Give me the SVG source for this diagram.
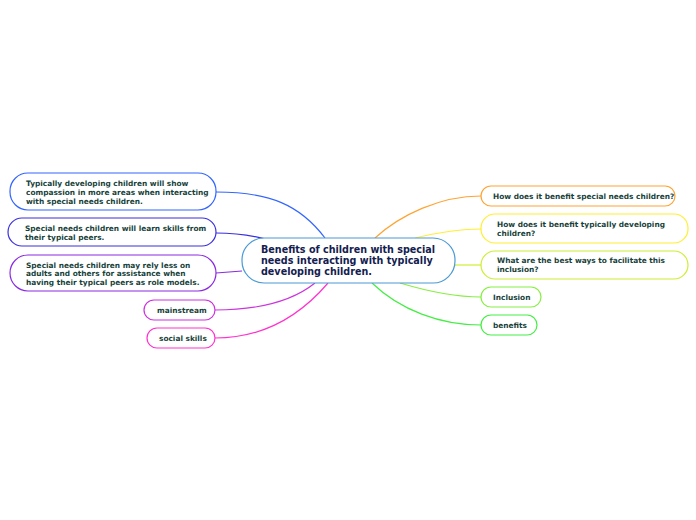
<svg xmlns="http://www.w3.org/2000/svg" width="696" height="520" viewBox="0 0 696 520">
<style>
text{font-family:"DejaVu Sans",Verdana,sans-serif;font-weight:bold;font-size:7.4px;fill:#17423a}
.c{font-size:9.6px;fill:#13204f}
rect{fill:#fff;stroke-width:1.2}
path{fill:none;stroke-width:1.2}
</style>
<rect width="696" height="520" fill="#fff" stroke="none"/>
<g id="connectors">
<path d="M216,192 C270,192 300,205 325,238" stroke="#3366ff"/>
<path d="M216,233 C240,233 255,236 270,240" stroke="#3a2fe0"/>
<path d="M216,273 L242,271" stroke="#8a2be2"/>
<path d="M215,310 C270,310 300,295 315,283" stroke="#cc33dd"/>
<path d="M215,338 C270,338 305,310 328,283" stroke="#ff33cc"/>
<path d="M375,238 C400,215 440,196 481,196" stroke="#ffa333"/>
<path d="M415,238 C440,232 460,229 481,229" stroke="#ffee33"/>
<path d="M455,265 L481,265" stroke="#ccee33"/>
<path d="M400,283 C430,292 455,297 481,297" stroke="#88ee44"/>
<path d="M372,283 C400,310 440,325 481,325" stroke="#44ee44"/>
</g>
<g id="center"><rect x="242" y="238" width="213" height="45" rx="22" stroke="#4a9ad6"/>
<text class="c" x="261" y="253">Benefits of children with special</text>
<text class="c" x="261" y="264">needs interacting with typically</text>
<text class="c" x="261" y="275">developing children.</text></g>
<g id="l1"><rect x="10" y="173" width="206" height="37" rx="18" stroke="#3366ff"/>
<text x="26" y="186">Typically developing children will show</text>
<text x="26" y="195">compassion in more areas when interacting</text>
<text x="26" y="204">with special needs children.</text></g>
<g id="l2"><rect x="8" y="218" width="208" height="28" rx="14" stroke="#3a2fe0"/>
<text x="25" y="231">Special needs children will learn skills from</text>
<text x="25" y="240">their typical peers.</text></g>
<g id="l3"><rect x="10" y="255" width="206" height="36" rx="18" stroke="#8a2be2"/>
<text x="26" y="268">Special needs children may rely less on</text>
<text x="26" y="276">adults and others for assistance when</text>
<text x="26" y="285">having their typical peers as role models.</text></g>
<g id="l4"><rect x="144" y="300" width="71" height="20" rx="10" stroke="#cc33dd"/>
<text x="157" y="313">mainstream</text></g>
<g id="l5"><rect x="147" y="328" width="68" height="20" rx="10" stroke="#ff33cc"/>
<text x="159" y="341">social skills</text></g>
<g id="r1"><rect x="481" y="186" width="194" height="20" rx="10" stroke="#ffa333"/>
<text x="493" y="199">How does it benefit special needs children?</text></g>
<g id="r2"><rect x="481" y="214" width="207" height="29" rx="14" stroke="#ffee33"/>
<text x="497" y="227">How does it benefit typically developing</text>
<text x="497" y="236">children?</text></g>
<g id="r3"><rect x="481" y="251" width="207" height="28" rx="14" stroke="#ccee33"/>
<text x="497" y="263">What are the best ways to facilitate this</text>
<text x="497" y="272">inclusion?</text></g>
<g id="r4"><rect x="481" y="287" width="60" height="20" rx="10" stroke="#88ee44"/>
<text x="493" y="300">Inclusion</text></g>
<g id="r5"><rect x="481" y="315" width="56" height="20" rx="10" stroke="#44ee44"/>
<text x="493" y="328">benefits</text></g>
</svg>
